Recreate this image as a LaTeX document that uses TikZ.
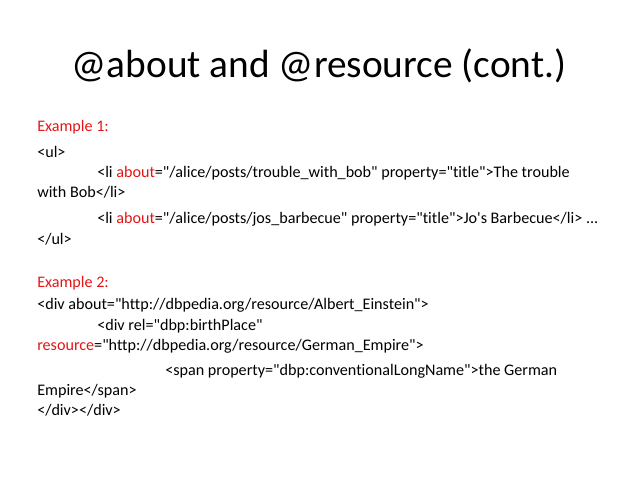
\documentclass[tikz,border=0pt]{standalone}
\usepackage{fontspec}
\setmainfont{Carlito}[Ligatures={TeXOff,CommonOff}]
\definecolor{red1}{RGB}{230,20,20}
\begin{document}
\begin{tikzpicture}[x=0.75pt,y=-0.75pt]
\tikzset{ln/.style={anchor=base west,inner sep=0pt,font=\fontsize{12.1}{14}\selectfont},
 ttl/.style={anchor=base,inner sep=0pt,font=\fontsize{29.5}{34}\selectfont}}
\useasboundingbox (0,0) rectangle (638,478);
\node[ttl] (t) at (319,78) {@about and @resource (cont.)};
\node[ln,text=red1] (a1) at (37,131) {Example 1:};
\node[ln] (a2) at (37,157) {<ul>};
\node[ln] (a3) at (97,177) {<li \textcolor{red1}{about}="/alice/posts/trouble\_with\_bob" property="title">The trouble};
\node[ln] (a4) at (37,197) {with Bob</li>};
\node[ln] (a5) at (97,223) {<li \textcolor{red1}{about}="/alice/posts/jos\_barbecue" property="title">Jo's Barbecue</li> ...};
\node[ln] (a6) at (37,244) {</ul>};
\node[ln,text=red1] (b1) at (37,287) {Example 2:};
\node[ln] (b2) at (37,309) {<div about="http://dbpedia.org/resource/Albert\_Einstein">};
\node[ln] (b3) at (97,330) {<div rel="dbp:birthPlace"};
\node[ln] (b4) at (37,350) {\textcolor{red1}{resource}="http://dbpedia.org/resource/German\_Empire">};
\node[ln] (b5) at (165,375) {<span property="dbp:conventionalLongName">the German};
\node[ln] (b6) at (37,395) {Empire</span>};
\node[ln] (b7) at (37,415) {</div></div>};
\end{tikzpicture}
\end{document}
